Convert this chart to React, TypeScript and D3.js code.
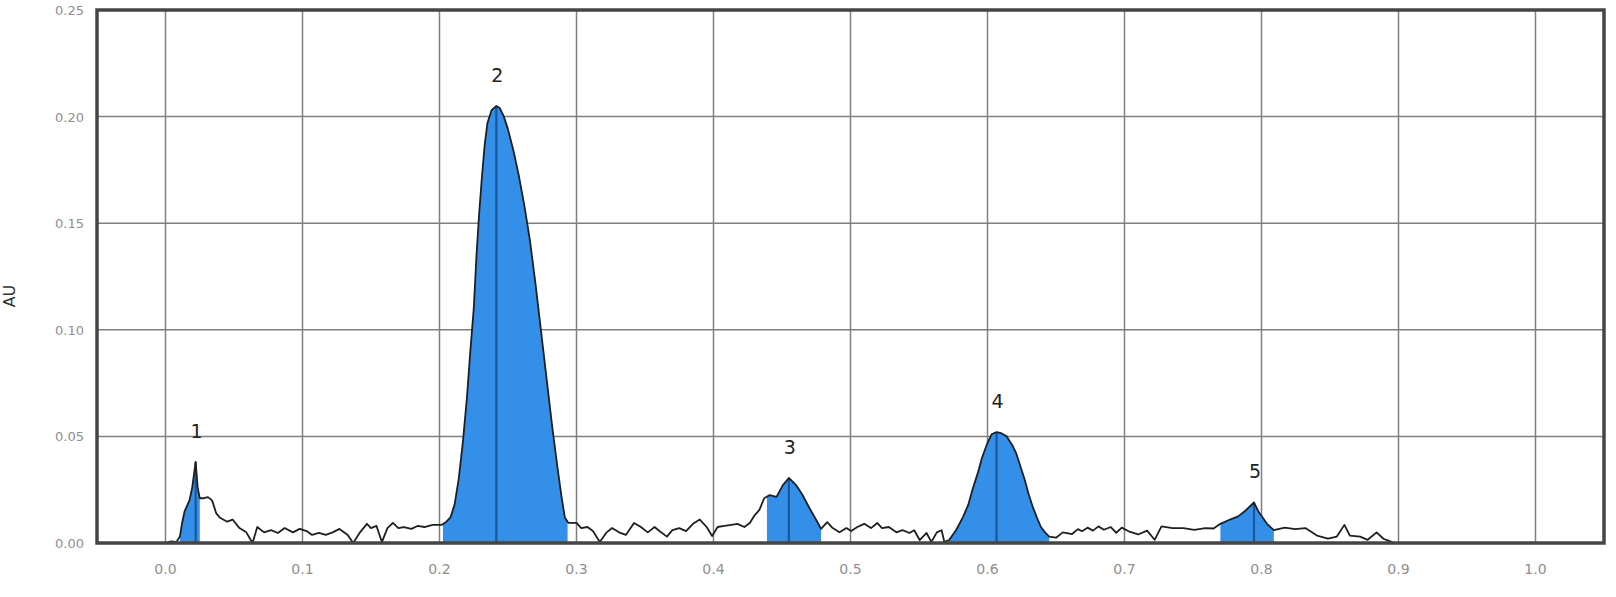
import React, { useEffect, useRef } from "react";
import * as d3 from "d3";

const WIDTH = 1616;
const HEIGHT = 597;

// retention factor (Rf) along the lane
const rf = [
  0.0, 0.004, 0.008, 0.0105, 0.012, 0.014, 0.0175, 0.0195, 0.022, 0.0235,
  0.025, 0.028, 0.031, 0.034, 0.037, 0.0395, 0.045, 0.049, 0.054, 0.059,
  0.0635, 0.067, 0.072, 0.077, 0.082, 0.087, 0.093, 0.098, 0.103, 0.107,
  0.112, 0.117, 0.122, 0.127, 0.133, 0.137, 0.142, 0.147, 0.15, 0.154,
  0.158, 0.162, 0.166, 0.17, 0.174, 0.1795, 0.184, 0.189, 0.195, 0.2015,
  0.205, 0.208, 0.211, 0.214, 0.217, 0.22, 0.2225, 0.225, 0.227, 0.229,
  0.231, 0.233, 0.235, 0.238, 0.2415, 0.244, 0.247, 0.25, 0.254, 0.258,
  0.262, 0.266, 0.27, 0.274, 0.278, 0.282, 0.286, 0.289, 0.2915, 0.294,
  0.3, 0.3035, 0.308, 0.312, 0.317, 0.322, 0.326, 0.331, 0.336, 0.342,
  0.347, 0.352, 0.357, 0.3605, 0.366, 0.37, 0.375, 0.38, 0.385, 0.39,
  0.395, 0.399, 0.403, 0.408, 0.413, 0.4175, 0.4225, 0.4265, 0.43, 0.4335,
  0.437, 0.441, 0.446, 0.4505, 0.455, 0.4605, 0.465, 0.47, 0.475, 0.4785,
  0.483, 0.487, 0.492, 0.497, 0.5005, 0.505, 0.51, 0.515, 0.5195, 0.523,
  0.528, 0.5335, 0.538, 0.543, 0.5465, 0.5505, 0.5555, 0.559, 0.563, 0.5665,
  0.5685, 0.572, 0.577, 0.582, 0.586, 0.589, 0.593, 0.596, 0.6, 0.603,
  0.6066, 0.61, 0.614, 0.618, 0.621, 0.624, 0.627, 0.63, 0.633, 0.636,
  0.639, 0.642, 0.645, 0.65, 0.655, 0.6617, 0.666, 0.669, 0.673, 0.677,
  0.681, 0.685, 0.69, 0.694, 0.698, 0.703, 0.71, 0.7165, 0.722, 0.727,
  0.735, 0.743, 0.751, 0.759, 0.765, 0.77, 0.777, 0.783, 0.788, 0.7945,
  0.798, 0.804, 0.809, 0.817, 0.8245, 0.832, 0.8405, 0.8485, 0.855, 0.8605,
  0.8645, 0.872, 0.8775, 0.884, 0.889, 0.893, 0.897,
];

// absorbance (AU) at each rf
const au = [
  0.0, 0.0008, 0.0005, 0.003, 0.009, 0.015, 0.02, 0.026, 0.038, 0.026,
  0.021, 0.021, 0.0215, 0.02, 0.014, 0.012, 0.01, 0.011, 0.007, 0.005,
  0.0, 0.0075, 0.005, 0.006, 0.0047, 0.007, 0.005, 0.0066, 0.0056, 0.0038,
  0.0047, 0.0038, 0.005, 0.0066, 0.0038, 0.0, 0.005, 0.009, 0.007, 0.008,
  0.0005, 0.007, 0.0094, 0.007, 0.0075, 0.0066, 0.008, 0.0075, 0.0085, 0.0085,
  0.01, 0.012, 0.018, 0.03, 0.047, 0.068, 0.09, 0.11, 0.135, 0.155,
  0.172, 0.187, 0.197, 0.203, 0.205, 0.204, 0.2, 0.194, 0.184, 0.172,
  0.158, 0.142, 0.122, 0.1, 0.078, 0.056, 0.036, 0.022, 0.012, 0.0095,
  0.0094, 0.007, 0.0075, 0.0056, 0.0005, 0.005, 0.007, 0.005, 0.0038, 0.0094,
  0.0075, 0.005, 0.0075, 0.0056, 0.003, 0.006, 0.007, 0.0056, 0.009, 0.011,
  0.0075, 0.0033, 0.0075, 0.008, 0.0085, 0.009, 0.0075, 0.0094, 0.013, 0.0155,
  0.021, 0.0225, 0.0216, 0.027, 0.0305, 0.027, 0.0225, 0.0164, 0.0108, 0.0066,
  0.0098, 0.007, 0.005, 0.007, 0.0056, 0.0075, 0.009, 0.007, 0.0094, 0.007,
  0.0075, 0.005, 0.006, 0.0047, 0.006, 0.0014, 0.0047, 0.0005, 0.005, 0.006,
  0.0005, 0.0014, 0.006, 0.012, 0.018, 0.025, 0.033, 0.04, 0.047, 0.051,
  0.052, 0.0515, 0.05, 0.046, 0.042, 0.036, 0.03, 0.023, 0.017, 0.012,
  0.0075, 0.005, 0.003, 0.0025, 0.005, 0.0042, 0.0065, 0.0055, 0.0072, 0.0058,
  0.0078, 0.0062, 0.0075, 0.0048, 0.0072, 0.0055, 0.004, 0.0058, 0.0015, 0.0078,
  0.007, 0.007, 0.0062, 0.007, 0.0068, 0.009, 0.011, 0.0125, 0.015, 0.019,
  0.0145, 0.009, 0.006, 0.0072, 0.0065, 0.007, 0.0035, 0.002, 0.003, 0.0085,
  0.0035, 0.003, 0.0015, 0.005, 0.002, 0.001, 0.0,
];

// integrated peaks
const peakLabels = ["1", "2", "3", "4", "5"];
const peakStart = [0.0105, 0.2025, 0.439, 0.572, 0.77];
const peakEnd = [0.025, 0.2935, 0.4785, 0.645, 0.809];
const peakApex = [0.022, 0.2415, 0.455, 0.6066, 0.7945];

const xTicks = [0.0, 0.1, 0.2, 0.3, 0.4, 0.5, 0.6, 0.7, 0.8, 0.9, 1.0];
const yTicks = [0.0, 0.05, 0.1, 0.15, 0.2, 0.25];

// linear lookup of au at a given rf
const auAt = (x: number) => {
  const i = d3.bisectRight(rf, x);
  if (i <= 0) return au[0];
  if (i >= rf.length) return au[au.length - 1];
  const t = (x - rf[i - 1]) / (rf[i] - rf[i - 1]);
  return au[i - 1] + t * (au[i] - au[i - 1]);
};

const Densitogram: React.FC = () => {
  const svgRef = useRef<SVGSVGElement | null>(null);

  useEffect(() => {
    document.body.style.margin = "0";

    const svg = d3.select(svgRef.current);
    svg.selectAll("*").remove();

    const x = d3.scaleLinear().domain([-0.05, 1.05]).range([97, 1604]);
    const y = d3.scaleLinear().domain([0, 0.25]).range([543, 10]);

    const font = "'DejaVu Sans', Verdana, sans-serif";

    // grid
    const grid = svg.append("g").attr("stroke", "#7f7f7f").attr("stroke-width", 1.5);
    grid
      .selectAll("line.v")
      .data(xTicks)
      .enter()
      .append("line")
      .attr("x1", (d) => x(d))
      .attr("x2", (d) => x(d))
      .attr("y1", y(0.25))
      .attr("y2", y(0));
    grid
      .selectAll("line.h")
      .data(yTicks)
      .enter()
      .append("line")
      .attr("x1", x(-0.05))
      .attr("x2", x(1.05))
      .attr("y1", (d) => y(d))
      .attr("y2", (d) => y(d));

    // peak fills
    const area = d3
      .area<[number, number]>()
      .x((d) => x(d[0]))
      .y0(y(0))
      .y1((d) => y(d[1]));

    peakLabels.forEach((label, i) => {
      const s = peakStart[i];
      const e = peakEnd[i];
      const pts: [number, number][] = [[s, auAt(s)]];
      rf.forEach((r, j) => {
        if (r > s && r < e) pts.push([r, au[j]]);
      });
      pts.push([e, auAt(e)]);
      svg.append("path").attr("d", area(pts)).attr("fill", "#348fe9");
    });

    // apex markers
    svg
      .selectAll("line.apex")
      .data(peakApex)
      .enter()
      .append("line")
      .attr("x1", (d) => x(d))
      .attr("x2", (d) => x(d))
      .attr("y1", y(0))
      .attr("y2", (d) => y(auAt(d)))
      .attr("stroke", "#19589a")
      .attr("stroke-width", 2.2);

    // trace
    const line = d3
      .line<number>()
      .x((d) => x(d))
      .y((d, i) => y(au[i]));
    svg
      .append("path")
      .attr("d", line(rf))
      .attr("fill", "none")
      .attr("stroke", "#1f1f1f")
      .attr("stroke-width", 1.8)
      .attr("stroke-linejoin", "round");

    // frame
    svg
      .append("rect")
      .attr("x", x(-0.05))
      .attr("y", y(0.25))
      .attr("width", x(1.05) - x(-0.05))
      .attr("height", y(0) - y(0.25))
      .attr("fill", "none")
      .attr("stroke", "#454545")
      .attr("stroke-width", 3.5);

    // tick labels
    svg
      .selectAll("text.xt")
      .data(xTicks)
      .enter()
      .append("text")
      .attr("x", (d) => x(d))
      .attr("y", 574)
      .attr("text-anchor", "middle")
      .style("font-family", font)
      .style("font-size", "14px")
      .attr("fill", "#8f8f8f")
      .text((d) => d3.format(".1f")(d));

    svg
      .selectAll("text.yt")
      .data(yTicks)
      .enter()
      .append("text")
      .attr("x", 84)
      .attr("y", (d) => y(d) + 5)
      .attr("text-anchor", "end")
      .style("font-family", font)
      .style("font-size", "13px")
      .attr("fill", "#8f8f8f")
      .text((d) => d3.format(".2f")(d));

    // peak numbers
    svg
      .selectAll("text.peak")
      .data(peakApex)
      .enter()
      .append("text")
      .attr("x", (d) => x(d) + 1)
      .attr("y", (d) => y(auAt(d)) - 24)
      .attr("text-anchor", "middle")
      .style("font-family", font)
      .style("font-size", "19px")
      .attr("fill", "#222")
      .text((d, i) => peakLabels[i]);

    // axis title
    svg
      .append("text")
      .attr("transform", "translate(15, 296) rotate(-90)")
      .attr("text-anchor", "middle")
      .style("font-family", font)
      .style("font-size", "16px")
      .attr("fill", "#333")
      .text("AU");
  }, []);

  return <svg ref={svgRef} width={WIDTH} height={HEIGHT} style={{ display: "block" }}></svg>;
};

export default function App() {
  return <Densitogram />;
}
